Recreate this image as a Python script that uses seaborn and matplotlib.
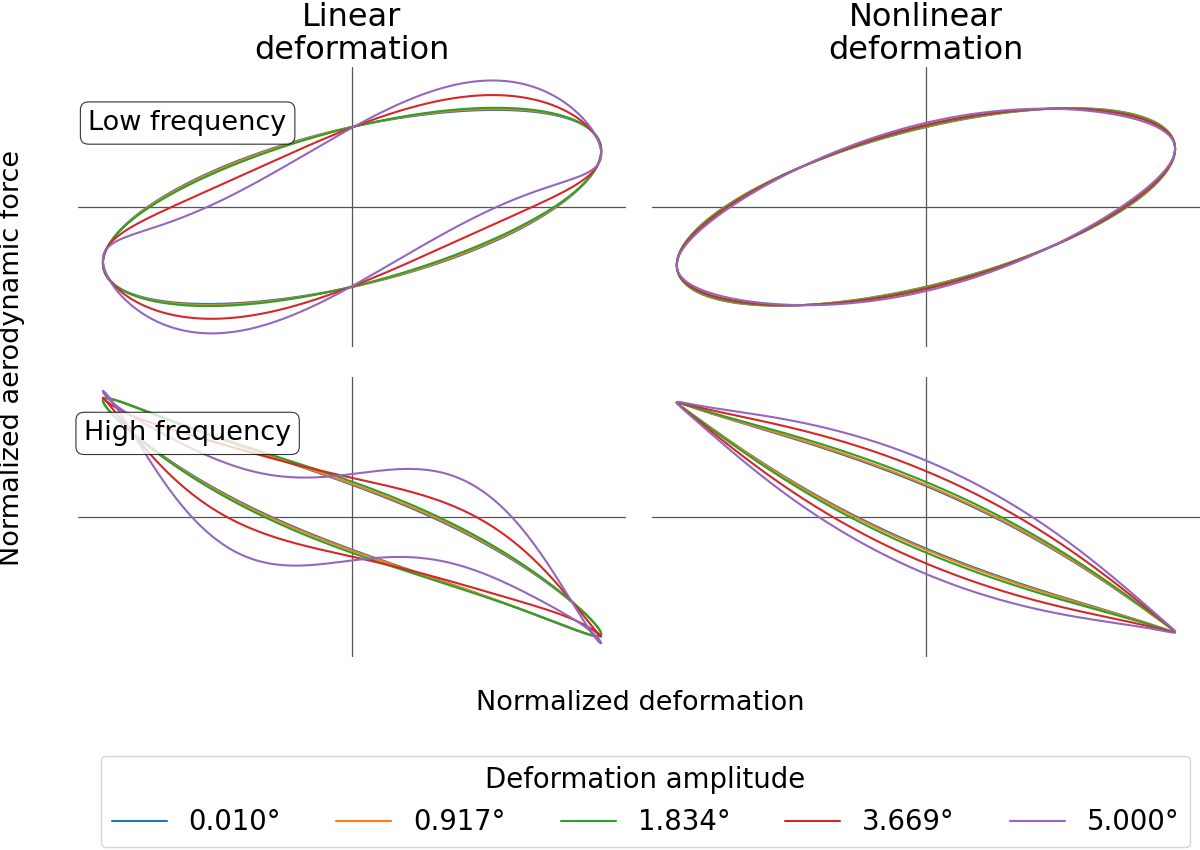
import numpy as np
import pandas as pd
import matplotlib.pyplot as plt
import seaborn as sns

amplitudes = ["0.010°", "0.917°", "1.834°", "3.669°", "5.000°"]
col_titles = ["Linear\ndeformation", "Nonlinear\ndeformation"]
row_labels = ["Low frequency", "High frequency"]

# harmonic coefficients of each force loop (deformation = -cos t),
# one value per amplitude
lin_low = {
    "c1": [-0.440, -0.445, -0.450, -0.510, -0.584],
    "s1": [0.630, 0.630, 0.628, 0.620, 0.614],
    "c3": [-0.005, 0.000, 0.008, 0.084, 0.165],
    "s3": [0.000, 0.000, 0.000, -0.005, -0.009],
    "c5": [0.0, 0.0, 0.0, 0.0, 0.0],
    "s5": [0.0, 0.0, 0.0, 0.0, 0.0],
}
nonlin_low = {
    "c1": [-0.458, -0.458, -0.458, -0.458, -0.458],
    "s1": [0.628, 0.628, 0.628, 0.628, 0.628],
    "c3": [0.0, 0.0, 0.0, 0.0, 0.0],
    "s3": [0.000, -0.003, -0.008, -0.018, -0.034],
    "c5": [0.0, 0.0, 0.0, 0.0, 0.0],
    "s5": [0.0, 0.0, 0.0, 0.0, 0.0],
}
lin_high = {
    "c1": [0.870, 0.867, 0.865, 0.814, 0.762],
    "s1": [0.245, 0.250, 0.262, 0.293, 0.330],
    "c3": [0.050, 0.053, 0.055, 0.126, 0.268],
    "s3": [-0.010, -0.012, -0.018, -0.049, -0.060],
    "c5": [0.0, 0.0, 0.0, 0.0, -0.040],
    "s5": [0.0, 0.0, 0.0, -0.032, -0.050],
}
nonlin_high = {
    "c1": [0.882, 0.882, 0.882, 0.882, 0.882],
    "s1": [0.204, 0.212, 0.231, 0.301, 0.370],
    "c3": [0.021, 0.021, 0.021, 0.021, 0.021],
    "s3": [-0.045, -0.047, -0.051, -0.067, -0.082],
    "c5": [0.0, 0.0, 0.0, 0.0, 0.0],
    "s5": [-0.003, -0.0035, -0.004, -0.005, -0.006],
}
panels = [[lin_low, nonlin_low], [lin_high, nonlin_high]]

palette = sns.color_palette("tab10", 5)

sns.set_style("white")
plt.rcParams["font.family"] = ["DejaVu Sans"]
plt.rcParams["text.color"] = "black"
plt.rcParams["axes.labelcolor"] = "black"

t = np.linspace(0, 2 * np.pi, 721)


def loop_frame(coef):
    rows = []
    for i, amp in enumerate(amplitudes):
        y = np.zeros_like(t)
        for k in (1, 3, 5):
            y += coef["c%d" % k][i] * np.cos(k * t) + coef["s%d" % k][i] * np.sin(k * t)
        rows.append(pd.DataFrame({"x": -np.cos(t), "y": y, "amp": amp}))
    return pd.concat(rows, ignore_index=True)


fig, axes = plt.subplots(2, 2, figsize=(12, 8.5), dpi=100)
fig.subplots_adjust(left=0.065, right=1.0, bottom=0.227, top=0.921, wspace=0.047, hspace=0.11)

fs = 19.5
for r in range(2):
    for c in range(2):
        ax = axes[r, c]
        df = loop_frame(panels[r][c])
        sns.lineplot(data=df, x="x", y="y", hue="amp", hue_order=amplitudes, palette=palette,
                     sort=False, estimator=None, units="amp", lw=1.5, ax=ax,
                     legend=(r == 0 and c == 0))
        ax.axhline(0, color="#555555", lw=0.9, zorder=1)
        ax.axvline(0, color="#555555", lw=0.9, zorder=1)
        ax.set_xlim(-1.1, 1.1)
        ax.set_ylim(-1.1, 1.1)
        ax.set_xticks([])
        ax.set_yticks([])
        ax.set_xlabel("")
        ax.set_ylabel("")
        for sp in ax.spines.values():
            sp.set_visible(False)
        if r == 0:
            ax.set_title(col_titles[c], fontsize=23, linespacing=1.08, color="black")
        if c == 0:
            ax.text(0.2, 0.8, row_labels[r], transform=ax.transAxes, ha="center", va="center",
                    fontsize=fs, zorder=5,
                    bbox=dict(boxstyle="round,pad=0.3", fc="white", ec="black", lw=0.8, alpha=0.8))

handles, labels = axes[0, 0].get_legend_handles_labels()
axes[0, 0].get_legend().remove()
leg = fig.legend(handles, labels, loc="lower center", bbox_to_anchor=(0.538, 0.0), ncol=5,
                 fontsize=19.8, title="Deformation amplitude", title_fontsize=19.8,
                 borderaxespad=0.1)
for txt in leg.get_texts():
    txt.set_color("black")
leg.get_title().set_color("black")

fig.text(0.5333, 0.173, "Normalized deformation", ha="center", va="center", fontsize=fs)
fig.text(0.01, 0.579, "Normalized aerodynamic force", ha="center", va="center",
         rotation=90, fontsize=fs)

fig.savefig("out.png", dpi=100)
